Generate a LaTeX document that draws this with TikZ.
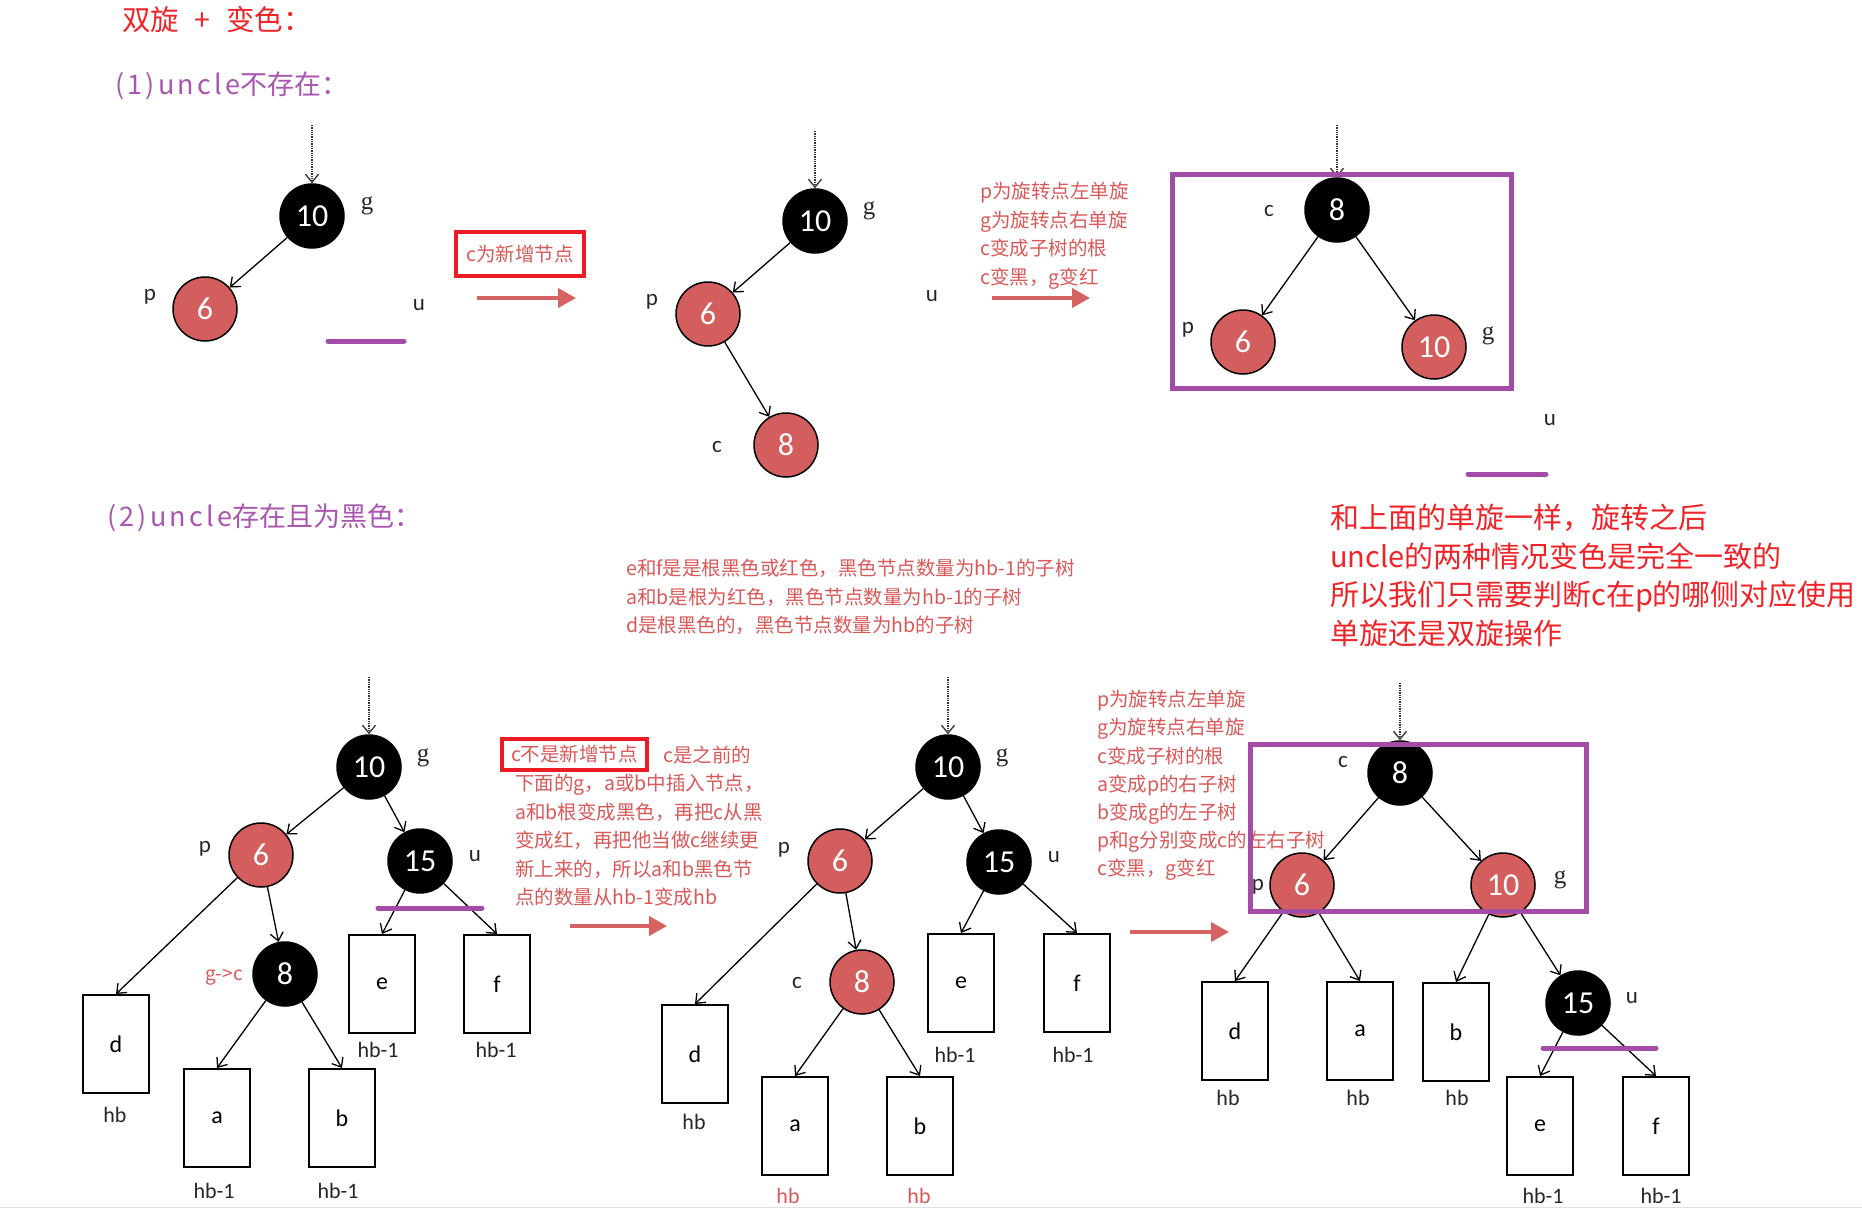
\documentclass[tikz,border=0pt]{standalone}
\usepackage{fontspec}
\setmainfont{Noto Sans CJK SC}
\newfontfamily\numfont{Carlito}
\newfontfamily\letterfont{Liberation Serif}
\usepackage{tikz}
\usetikzlibrary{arrows.meta}
\usepackage{xcolor}
\definecolor{nodered}{RGB}{212,94,94}
\definecolor{notered}{RGB}{217,88,88}
\definecolor{boxred}{RGB}{237,28,36}
\definecolor{headred}{RGB}{240,36,40}
\definecolor{arrowred}{RGB}{214,98,98}
\definecolor{purp}{RGB}{162,76,166}
\definecolor{subpurp}{RGB}{170,85,175}

\begin{document}
\begin{tikzpicture}[x=1pt,y=-1pt]
  \tikzset{blackvertex/.style={circle,fill=black,draw=black,line width=1.5pt,minimum size=64pt,inner sep=0pt,text=white,font=\numfont\fontsize{32}{32}\selectfont}}
  \tikzset{redvertex/.style={blackvertex,fill=nodered}}
  \tikzset{subtree/.style={rectangle,draw=black,line width=2pt,minimum width=66pt,minimum height=98pt,inner sep=0pt,font=\numfont\fontsize{24}{24}\selectfont}}
  \tikzset{treeedge/.style={draw=black,line width=1.3pt,-{Straight Barb[length=8pt,width=13pt]}}}
  \tikzset{rootedge/.style={treeedge,draw=black!80,densely dotted}}
  \tikzset{rolelabel/.style={font=\numfont\fontsize{23}{23}\selectfont,text=black!85,inner sep=0pt}}
  \tikzset{glabel/.style={rolelabel,font=\letterfont\fontsize{25}{25}\selectfont}}
  \tikzset{hblabel/.style={font=\numfont\fontsize{22}{22}\selectfont,text=black!85,inner sep=0pt}}
  \tikzset{note/.style={font=\fontsize{19.5}{28.5}\selectfont,text=notered,align=left,anchor=north west,inner sep=0pt}}
  \tikzset{newnodebox/.style={rectangle,draw=boxred,line width=4pt,inner sep=0pt,text=notered,font=\fontsize{19.5}{19.5}\selectfont}}
  \tikzset{bigarrow/.style={draw=arrowred,line width=4pt,-{Triangle[length=18pt,width=19pt]}}}
  \tikzset{nilmark/.style={draw=purp,line width=5pt,line cap=round}}
  \tikzset{rotatebox/.style={draw=purp,line width=5pt}}
  \tikzset{casehead/.style={anchor=west,inner sep=0pt,text=subpurp,font=\fontsize{27}{27}\selectfont}}
  \useasboundingbox (0,0) rectangle (1862,1209);
  \draw[black!12,line width=1.5pt] (0,1207.5) -- (1862,1207.5);
  \node[anchor=west,inner sep=0pt,text=headred,font=\fontsize{28.5}{28.5}\selectfont] (title) at (122,20) {双旋\hspace{0.55em}+\hspace{0.55em}变色：};
  \node[casehead] (case1) at (115,86) {{\addfontfeature{LetterSpace=12}(1)uncle}不存在：};
  \node[casehead] (case2) at (107,518) {{\addfontfeature{LetterSpace=12}(2)uncle}存在且为黑色：};
  % uncle missing
  \coordinate (t1top) at (312,125);
  \node[blackvertex] (t1g) at (312,216) {10};
  \node[redvertex] (t1p) at (205,309) {6};
  \node[glabel] (t1gl) at (367,206) {g};
  \node[rolelabel] (t1pl) at (150,297) {p};
  \node[rolelabel] (t1ul) at (419,305) {u};
  \draw[rootedge] (t1top) -- (t1g);
  \draw[treeedge] (t1g) -- (t1p);
  \draw[nilmark] (328,341) -- (404,341);
  \node[newnodebox,minimum width=128pt,minimum height=44pt] (n1) at (520,254) {c为新增节点};
  \coordinate (a1s) at (477,298);
  \coordinate (a1e) at (576,298);
  \draw[bigarrow] (a1s) -- (a1e);
  \coordinate (t2top) at (815,131);
  \node[blackvertex] (t2g) at (815,221) {10};
  \node[redvertex] (t2p) at (708,314) {6};
  \node[redvertex] (t2c) at (786,445) {8};
  \node[glabel] (t2gl) at (869,211) {g};
  \node[rolelabel] (t2pl) at (652,302) {p};
  \node[rolelabel] (t2cl) at (717,447) {c};
  \node[rolelabel] (t2ul) at (932,296) {u};
  \draw[rootedge] (t2top) -- (t2g);
  \draw[treeedge] (t2g) -- (t2p);
  \draw[treeedge] (t2p) -- (t2c);
  \node[note] (rot1) at (980,182) {p为旋转点左单旋\\g为旋转点右单旋\\c变成子树的根\\c变黑，g变红};
  \coordinate (a2s) at (992,298);
  \coordinate (a2e) at (1090,298);
  \draw[bigarrow] (a2s) -- (a2e);
  \coordinate (t3top) at (1337,125);
  \node[blackvertex] (t3c) at (1337,210) {8};
  \node[redvertex] (t3p) at (1243,342) {6};
  \node[redvertex] (t3g) at (1434,347) {10};
  \node[rolelabel] (t3cl) at (1269,211) {c};
  \node[rolelabel] (t3pl) at (1188,330) {p};
  \node[glabel] (t3gl) at (1488,336) {g};
  \node[rolelabel] (t3ul) at (1550,420) {u};
  \draw[rootedge] (t3top) -- (t3c);
  \draw[treeedge] (t3c) -- (t3p);
  \draw[treeedge] (t3c) -- (t3g);
  \draw[rotatebox] (1172,175) rectangle (1511,388);
  \draw[nilmark] (1468,474) -- (1546,474);
  % uncle black
  \node[note] (sub) at (626,559) {e和f是是根黑色或红色，黑色节点数量为hb-1的子树\\a和b是根为红色，黑色节点数量为hb-1的子树\\d是根黑色的，黑色节点数量为hb的子树};
  \node[note,text=headred,font=\fontsize{29}{38.5}\selectfont] (sum) at (1330,504) {和上面的单旋一样，旋转之后\\uncle的两种情况变色是完全一致的\\所以我们只需要判断c在p的哪侧对应使用\\单旋还是双旋操作};
  \coordinate (t4top) at (369,677);
  \node[blackvertex] (t4g) at (369,767) {10};
  \node[redvertex] (t4p) at (261,855) {6};
  \node[blackvertex] (t4u) at (420,861) {15};
  \node[blackvertex] (t4c) at (285,974) {8};
  \node[subtree] (t4d) at (116,1044) {d};
  \node[subtree] (t4a) at (217,1118) {a};
  \node[subtree] (t4b) at (342,1118) {b};
  \node[subtree] (t4e) at (382,984) {e};
  \node[subtree] (t4f) at (497,984) {f};
  \node[glabel] (t4gl) at (423,758) {g};
  \node[rolelabel] (t4pl) at (205,849) {p};
  \node[rolelabel] (t4ul) at (475,856) {u};
  \node[inner sep=0pt,text=notered,font=\fontsize{19}{19}\selectfont] (t4cl) at (224,977) {g->c};
  \node[hblabel] (t4dh) at (115,1115) {hb};
  \node[hblabel] (t4ah) at (214,1191) {hb-1};
  \node[hblabel] (t4bh) at (338,1191) {hb-1};
  \node[hblabel] (t4eh) at (378,1050) {hb-1};
  \node[hblabel] (t4fh) at (496,1050) {hb-1};
  \draw[rootedge] (t4top) -- (t4g);
  \draw[treeedge] (t4g) -- (t4p);
  \draw[treeedge] (t4g) -- (t4u);
  \draw[treeedge] (t4p) -- (t4d.north);
  \draw[treeedge] (t4p) -- (t4c);
  \draw[treeedge] (t4c) -- (t4a.north);
  \draw[treeedge] (t4c) -- (t4b.north);
  \draw[treeedge] (t4u) -- (t4e.north);
  \draw[treeedge] (t4u) -- (t4f.north);
  \draw[nilmark] (378,908) -- (482,908);
  \node[newnodebox,minimum width=145pt,minimum height=31pt] (n2) at (574.5,754.5) {c不是新增节点};
  \node[note,anchor=west] (why0) at (663,755) {c是之前的};
  \node[note] (why) at (515,774) {下面的g，a或b中插入节点，\\a和b根变成黑色，再把c从黑\\变成红，再把他当做c继续更\\新上来的，所以a和b黑色节\\点的数量从hb-1变成hb};
  \coordinate (a3s) at (570,926);
  \coordinate (a3e) at (667,926);
  \draw[bigarrow] (a3s) -- (a3e);
  \coordinate (t5top) at (948,677);
  \node[blackvertex] (t5g) at (948,767) {10};
  \node[redvertex] (t5p) at (840,861) {6};
  \node[blackvertex] (t5u) at (999,862) {15};
  \node[redvertex] (t5c) at (862,982) {8};
  \node[subtree] (t5d) at (695,1054) {d};
  \node[subtree] (t5a) at (795,1126) {a};
  \node[subtree] (t5b) at (920,1126) {b};
  \node[subtree] (t5e) at (961,983) {e};
  \node[subtree] (t5f) at (1077,983) {f};
  \node[glabel] (t5gl) at (1002,758) {g};
  \node[rolelabel] (t5pl) at (784,850) {p};
  \node[rolelabel] (t5ul) at (1054,857) {u};
  \node[rolelabel] (t5cl) at (797,983) {c};
  \node[hblabel] (t5dh) at (694,1122) {hb};
  \node[hblabel,text=notered] (t5ah) at (788,1196) {hb};
  \node[hblabel,text=notered] (t5bh) at (919,1196) {hb};
  \node[hblabel] (t5eh) at (955,1055) {hb-1};
  \node[hblabel] (t5fh) at (1073,1055) {hb-1};
  \draw[rootedge] (t5top) -- (t5g);
  \draw[treeedge] (t5g) -- (t5p);
  \draw[treeedge] (t5g) -- (t5u);
  \draw[treeedge] (t5p) -- (t5d.north);
  \draw[treeedge] (t5p) -- (t5c);
  \draw[treeedge] (t5c) -- (t5a.north);
  \draw[treeedge] (t5c) -- (t5b.north);
  \draw[treeedge] (t5u) -- (t5e.north);
  \draw[treeedge] (t5u) -- (t5f.north);
  \node[note,font=\fontsize{19.5}{28.2}\selectfont] (rot2) at (1097,690) {p为旋转点左单旋\\g为旋转点右单旋\\c变成子树的根\\a变成p的右子树\\b变成g的左子树\\p和g分别变成c的左右子树\\c变黑，g变红};
  \coordinate (a4s) at (1130,932);
  \coordinate (a4e) at (1229,932);
  \draw[bigarrow] (a4s) -- (a4e);
  \coordinate (t6top) at (1400,683);
  \node[blackvertex] (t6c) at (1400,773) {8};
  \node[redvertex] (t6p) at (1302,885) {6};
  \node[redvertex] (t6g) at (1503,885) {10};
  \node[blackvertex] (t6u) at (1578,1003) {15};
  \node[subtree] (t6d) at (1235,1031) {d};
  \node[subtree] (t6a) at (1360,1031) {a};
  \node[subtree] (t6b) at (1456,1032) {b};
  \node[subtree] (t6e) at (1540,1126) {e};
  \node[subtree] (t6f) at (1656,1126) {f};
  \node[rolelabel] (t6cl) at (1343,762) {c};
  \node[rolelabel] (t6pl) at (1258,887) {p};
  \node[glabel] (t6gl) at (1560,880) {g};
  \node[rolelabel] (t6ul) at (1632,998) {u};
  \node[hblabel] (t6dh) at (1228,1098) {hb};
  \node[hblabel] (t6ah) at (1358,1098) {hb};
  \node[hblabel] (t6bh) at (1457,1098) {hb};
  \node[hblabel] (t6eh) at (1543,1196) {hb-1};
  \node[hblabel] (t6fh) at (1661,1196) {hb-1};
  \draw[rootedge] (t6top) -- (t6c);
  \draw[treeedge] (t6c) -- (t6p);
  \draw[treeedge] (t6c) -- (t6g);
  \draw[treeedge] (t6p) -- (t6d.north);
  \draw[treeedge] (t6p) -- (t6a.north);
  \draw[treeedge] (t6g) -- (t6b.north);
  \draw[treeedge] (t6g) -- (t6u);
  \draw[treeedge] (t6u) -- (t6e.north);
  \draw[treeedge] (t6u) -- (t6f.north);
  \draw[rotatebox] (1250,744) rectangle (1586,911);
  \draw[nilmark] (1543,1048) -- (1656,1048);
\end{tikzpicture}
\end{document}
